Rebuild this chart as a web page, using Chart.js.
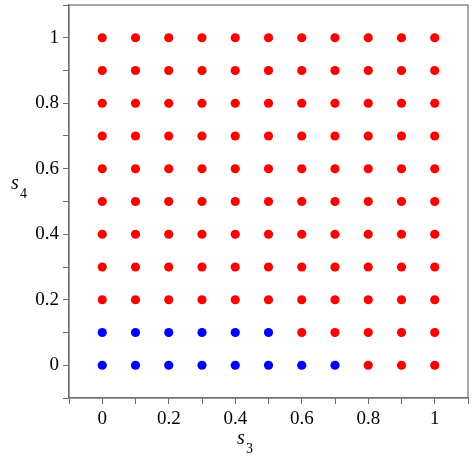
<!DOCTYPE html>
<html>
<head>
<meta charset="utf-8">
<script src="https://cdn.jsdelivr.net/npm/chart.js@4/dist/chart.umd.min.js"></script>
<style>
  html, body { margin: 0; padding: 0; background: #fff; }
  canvas { display: block; }
</style>
</head>
<body>
<canvas id="c" width="474" height="467"></canvas>
<script>
// grid of sampled (s3, s4) values
const s3Values = [0, 0.1, 0.2, 0.3, 0.4, 0.5, 0.6, 0.7, 0.8, 0.9, 1];
const s4Values = [0, 0.1, 0.2, 0.3, 0.4, 0.5, 0.6, 0.7, 0.8, 0.9, 1];

// points drawn in blue (everything else is red)
const blueS3 = [0, 0.1, 0.2, 0.3, 0.4, 0.5, 0.6, 0.7, 0, 0.1, 0.2, 0.3, 0.4, 0.5];
const blueS4 = [0, 0, 0, 0, 0, 0, 0, 0, 0.1, 0.1, 0.1, 0.1, 0.1, 0.1];

const tickLabels = ['0', '0.2', '0.4', '0.6', '0.8', '1'];

const bluePts = blueS3.map((x, i) => ({ x, y: blueS4[i] }));
const isBlue = (x, y) => bluePts.some(p => p.x === x && p.y === y);
const redPts = [];
for (const y of s4Values) {
  for (const x of s3Values) {
    if (!isBlue(x, y)) redPts.push({ x, y });
  }
}

const FONT = "'Liberation Serif', 'DejaVu Serif', serif";
const AXIS_GRAY = '#6e6e6e';

function tickText(value) {
  const v = Math.round(value * 10) / 10;
  const s = String(v);
  return tickLabels.includes(s) ? s : '';
}

function axis(extra) {
  return {
    type: 'linear',
    min: -0.1,
    max: 1.1,
    grid: { drawOnChartArea: false, drawTicks: true, tickLength: 6, color: AXIS_GRAY, lineWidth: 1 },
    border: { display: true, color: AXIS_GRAY, width: 1.2 },
    ticks: {
      stepSize: 0.1,
      autoSkip: false,
      maxRotation: 0,
      color: '#000',
      padding: 4,
      font: { family: FONT, size: 19 },
      callback: tickText,
    },
    ...extra,
  };
}

// box round the plot area and the s3 / s4 axis titles
const frame = {
  id: 'frame',
  afterDraw(chart) {
    const { ctx, chartArea: a } = chart;
    ctx.save();
    ctx.strokeStyle = AXIS_GRAY;
    ctx.lineWidth = 1.2;
    ctx.strokeRect(a.left, a.top, a.right - a.left, a.bottom - a.top);

    ctx.fillStyle = '#000';
    ctx.textBaseline = 'alphabetic';
    ctx.textAlign = 'left';
    // x title
    ctx.font = `italic 20px ${FONT}`;
    ctx.fillText('s', 237, 444);
    ctx.font = `14px ${FONT}`;
    ctx.fillText('3', 246, 453);
    // y title
    ctx.font = `italic 20px ${FONT}`;
    ctx.fillText('s', 11, 189);
    ctx.font = `14px ${FONT}`;
    ctx.fillText('4', 20, 198);
    ctx.restore();
  },
};

new Chart(document.getElementById('c'), {
  type: 'scatter',
  data: {
    datasets: [
      { label: 'red', data: redPts, backgroundColor: '#ff0000', pointRadius: 4.6, borderWidth: 0 },
      { label: 'blue', data: bluePts, backgroundColor: '#0000ff', pointRadius: 4.6, borderWidth: 0 },
    ],
  },
  options: {
    responsive: false,
    animation: false,
    layout: { padding: { top: 5, right: 6, left: 0, bottom: 0 } },
    plugins: { legend: { display: false }, tooltip: { enabled: false } },
    scales: {
      x: axis({ position: 'bottom', afterFit(s) { s.height = 69; s.paddingLeft = 0; s.paddingRight = 0; } }),
      y: axis({ position: 'left', afterFit(s) { s.width = 69; s.paddingTop = 0; s.paddingBottom = 0; } }),
    },
  },
  plugins: [frame],
});
</script>
</body>
</html>
